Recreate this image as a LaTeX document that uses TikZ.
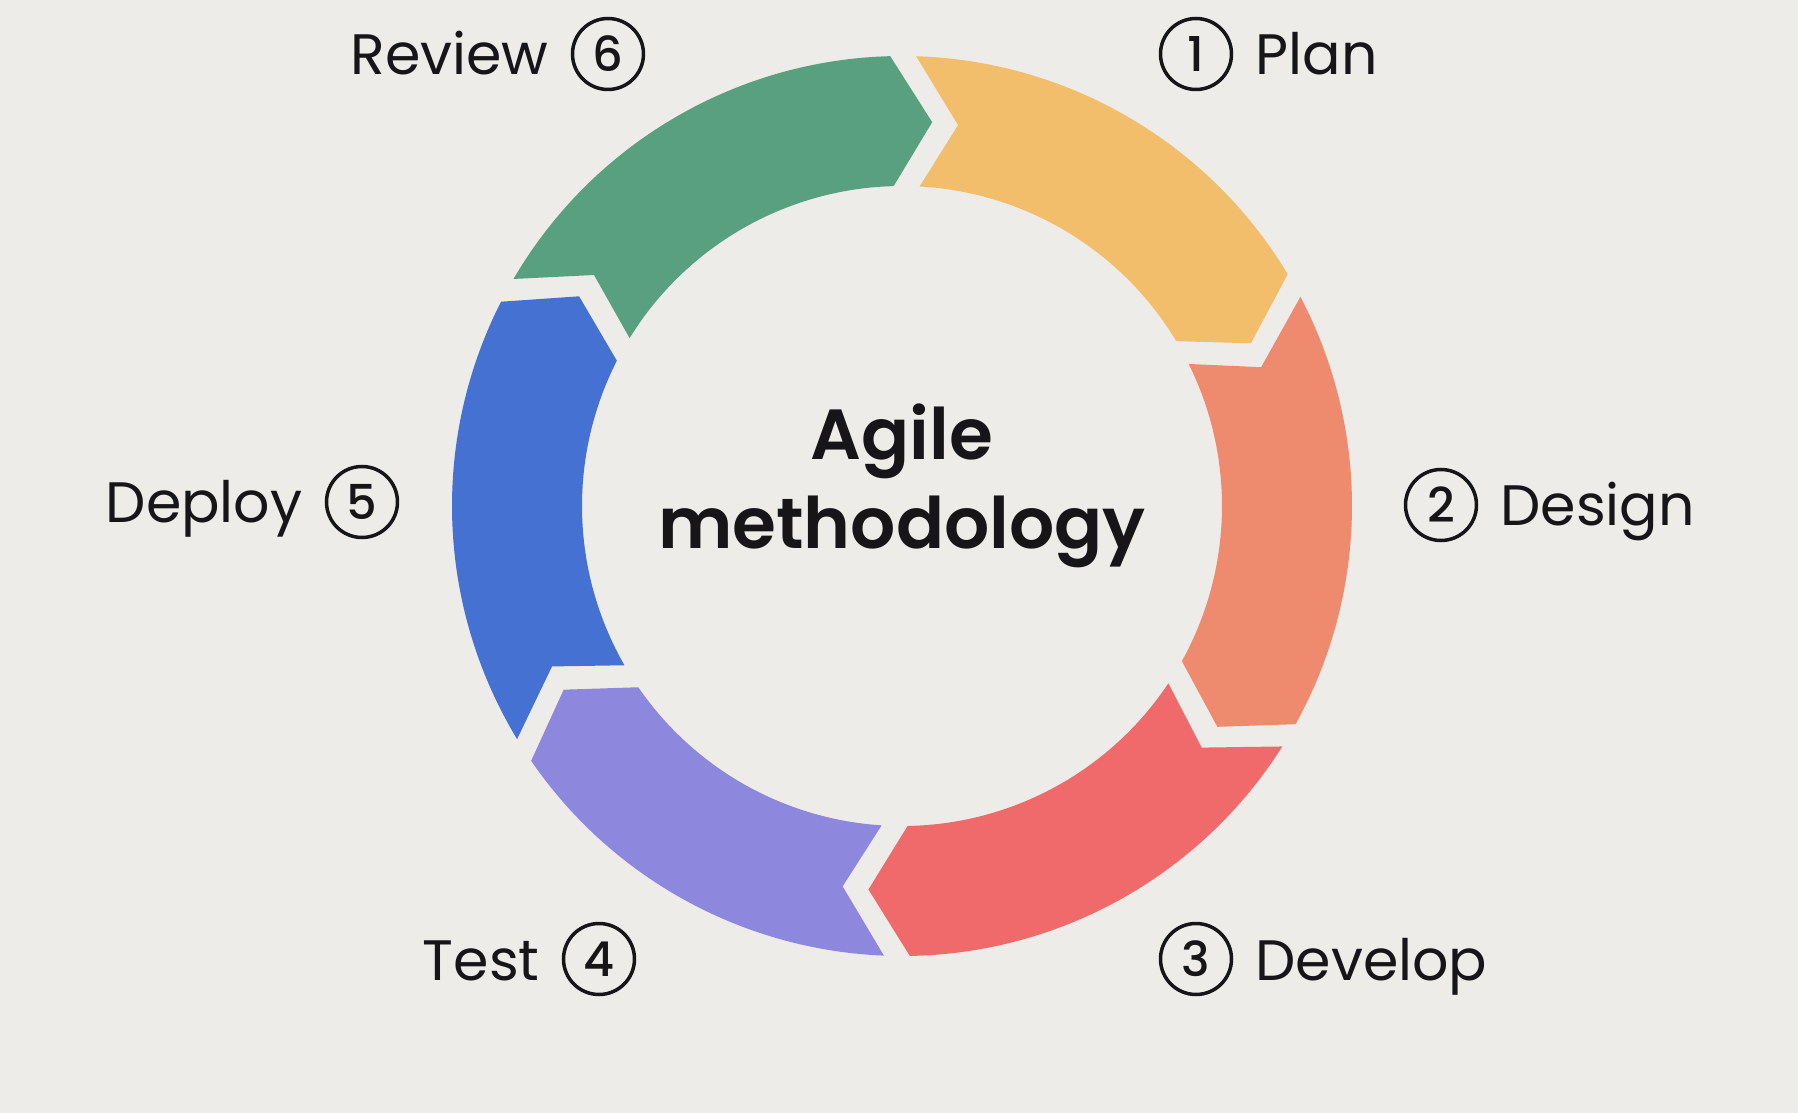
\documentclass[tikz,border=0pt]{standalone}
\usepackage{fontspec}
\setmainfont{Poppins}
\newfontfamily\titlefont{Poppins SemiBold}
\newfontfamily\numfont{Poppins Medium}
\definecolor{bgc}{RGB}{238,236,233}
\definecolor{ink}{RGB}{22,22,24}
\definecolor{cyellow}{RGB}{242,190,108}
\definecolor{corange}{RGB}{238,138,110}
\definecolor{cred}{RGB}{240,106,108}
\definecolor{cpurple}{RGB}{142,135,222}
\definecolor{cblue}{RGB}{69,114,210}
\definecolor{cgreen}{RGB}{88,160,128}
\def\segRo{450}
\def\segRi{320}
\def\segRm{385}
\def\segGo{3.3}
\def\segGi{4.65}
\def\segGm{3.87}
\def\segTp{6}
\newcommand\ringseg[3]{%
  \pgfmathsetmacro\segA{#2-\segGo}%
  \pgfmathsetmacro\segB{#3-\segTp}%
  \pgfmathsetmacro\segC{#2-\segGi}%
  \pgfmathsetmacro\segD{#2-\segTp-\segGm}%
  \fill[#1] (\segA:\segRo) arc[start angle=\segA, end angle=#3, radius=\segRo]
    -- (\segB:\segRm) -- (#3:\segRi)
    arc[start angle=#3, end angle=\segC, radius=\segRi]
    -- (\segD:\segRm) -- cycle;
}
\begin{document}
\begin{tikzpicture}[x=1pt,y=1pt,
  num/.style={circle, draw=ink, line width=3.5pt, minimum size=71pt, inner sep=0pt,
    text=ink, font=\numfont\fontsize{48}{48}\selectfont},
  lab/.style={inner sep=0pt, text=ink, font=\fontsize{57}{57}\selectfont},
  ttl/.style={inner sep=0pt, text=ink, font=\titlefont\fontsize{71}{71}\selectfont}]
\fill[bgc] (-902,-607) rectangle (896,506);
\useasboundingbox (-902,-607) rectangle (896,506);
% ring segments (clockwise)
\ringseg{cyellow}{91.5}{31}
\ringseg{corange}{31}{-29}
\ringseg{cred}{-29}{-89}
\ringseg{cpurple}{-89}{-145.5}
\ringseg{cblue}{-145.5}{-207}
\ringseg{cgreen}{153}{91.5}
% title
\node[ttl, anchor=base] (t1) at (0,46) {Agile};
\node[ttl, anchor=base] (t2) at (0,-42) {methodology};
% numbered circles
\node[num] (c1) at (294,452) {1};
\node[num] (c2) at (539,1) {2};
\node[num] (c3) at (294,-453) {3};
\node[num] (c4) at (-303,-453) {4};
\node[num] (c5) at (-540,4) {5};
\node[num] (c6) at (-294,452) {6};
% labels
\node[lab, anchor=base west] (l1) at ([xshift=22pt,yshift=-21pt]c1.east) {Plan};
\node[lab, anchor=base west] (l2) at ([xshift=22pt,yshift=-21pt]c2.east) {Design};
\node[lab, anchor=base west] (l3) at ([xshift=22pt,yshift=-21pt]c3.east) {Develop};
\node[lab, anchor=base east] (l4) at ([xshift=-22pt,yshift=-21pt]c4.west) {Test};
\node[lab, anchor=base east] (l5) at ([xshift=-22pt,yshift=-21pt]c5.west) {Deploy};
\node[lab, anchor=base east] (l6) at ([xshift=-22pt,yshift=-21pt]c6.west) {Review};
\end{tikzpicture}
\end{document}
